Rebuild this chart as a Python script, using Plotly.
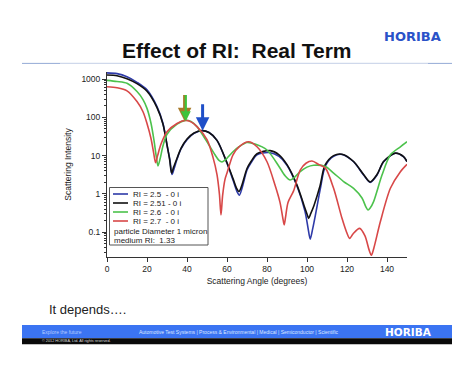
import plotly.graph_objects as go

OFF = 8  # page body margin
W, H = 474 - OFF, 366 - OFF
ML, MR, MT, MB = 107 - OFF, 67, 72 - OFF, 109
PW, PH = W - ML - MR, H - MT - MB

def px(x):
    return (x - OFF - ML) / PW

def py(y):
    return (H + OFF - MB - y) / PH

series_names = ["RI = 2.5\u00a0 - 0 i", "RI = 2.51 - 0 i", "RI = 2.6\u00a0 - 0 i", "RI = 2.7\u00a0 - 0 i"]
series_colors = ["#2e3aa8", "#111111", "#4cc24c", "#d84848"]

# RI = 2.5
blue_x = [0, 5, 10, 15, 20, 25, 28, 30, 31.5, 32.5, 33.5, 35, 37, 40, 43.5, 47.5, 51, 55, 60, 63, 65, 66.2, 67.5,
          70, 72, 75, 81, 86, 90, 95, 99, 100.5, 101.6, 102.8, 104.2, 106.7, 109.2, 113.3, 117.5, 123.3, 128.3,
          131.6, 135, 138.3, 144.2, 148.3, 150]
blue_y = [1450, 1380, 1150, 820, 520, 190, 69, 19, 7.5, 3.2, 4.5, 8, 15, 26, 38, 45, 40, 25, 6.3, 2.3, 1.15, 0.93, 1.4,
          4.2, 6.5, 10.5, 12, 9.5, 5.6, 1.6, 0.35, 0.13, 0.066, 0.12, 0.28, 1.4, 5.4, 9.6, 10.7, 6.9, 3.1,
          2.0, 3.1, 6.9, 11.5, 9.3, 7.0]

# RI = 2.51
black_x = [0, 5, 10, 15, 20, 25, 28, 30, 31.3, 32.3, 33.3, 35, 37, 40, 43.5, 47.5, 51, 55, 60, 63, 64.8, 66, 67.3,
           70, 72, 75, 81.6, 86, 90, 95, 98.5, 100, 100.8, 101.8, 103.5, 106.5, 109, 113.3, 117.5, 123.3, 128.3,
           131.6, 135, 138.3, 144.2, 148.3, 150]
black_y = [1270, 1220, 1020, 760, 480, 180, 66, 19, 8, 3.5, 5, 8.5, 15.5, 27, 39, 45, 40, 25, 6.5, 2.5, 1.4, 1.15, 1.6,
           4.6, 7, 11.2, 13.5, 10.5, 5.8, 1.7, 0.5, 0.3, 0.23, 0.3, 0.5, 1.6, 5.6, 10, 10.9, 7.0, 3.2,
           2.05, 3.2, 7.0, 11.6, 9.4, 7.0]

# RI = 2.6
green_x = [0, 5, 10, 15, 18, 20, 22, 23.5, 24.7, 25.5, 26.5, 28, 30, 35, 39, 42, 45, 50, 54, 56, 57.5, 59, 60, 63,
           66, 70, 74, 80, 86, 89, 91.6, 94, 96.6, 100, 103.3, 109.2, 113.3, 118.3, 123.3, 127.5, 129.5, 130.5,
           131.5, 133.3, 137.5, 141.7, 146.7, 150]
green_y = [920, 860, 770, 470, 290, 171, 70, 25, 9, 5.4, 8, 18, 36, 66, 83, 78, 57, 23, 10.5, 7.5, 6.8, 7.6, 8.5, 12.6,
           17, 22, 20, 14, 5.2, 3, 2.3, 2.8, 3.8, 5.0, 5.6, 5.2, 3.5, 2.1, 1.4, 0.78, 0.45, 0.38,
           0.42, 0.63, 3.1, 10.5, 17, 23]

# RI = 2.7
red_x = [0, 5, 10, 15, 18, 20, 22, 23.3, 24.3, 25.3, 27, 30, 35, 39, 42, 45, 50, 53, 55, 56.2, 57, 57.8, 59, 60, 63,
         66, 70.8, 75, 80, 84, 86.5, 88, 88.6, 89.3, 90.5, 93.3, 96.6, 99.5, 102.5, 106, 109.2, 113.3, 117.5,
         119.8, 121.3, 123, 126.3, 129, 131, 132.2, 133.5, 136.7, 141.7, 146.7, 150]
red_y = [630, 590, 490, 257, 140, 69, 28, 12, 6.5, 10, 20, 42, 69, 83, 76, 57, 26, 9, 3.2, 1.0, 0.28, 0.9, 2.4, 3.5, 10.5,
         17, 23, 17, 6.9, 1.7, 0.6, 0.22, 0.155, 0.25, 0.6, 1.2, 4.2, 6.3, 7.2, 5.8, 4.7, 1.4, 0.23,
         0.1, 0.069, 0.09, 0.126, 0.08, 0.035, 0.025, 0.04, 0.19, 1.4, 3.8, 5.9]

series_x = [blue_x, black_x, green_x, red_x]
series_y = [blue_y, black_y, green_y, red_y]

x_ticks = [0, 20, 40, 60, 80, 100, 120, 140]
y_ticks = [0.1, 1, 10, 100, 1000]
y_tick_text = ["0.1", "1", "10", "100", "1000"]
y_minor = [m * 10 ** e for e in range(-2, 4) for m in range(2, 10)]

fig = go.Figure()
for xs, ys, name, col in zip(series_x, series_y, series_names, series_colors):
    fig.add_trace(go.Scatter(x=xs, y=ys, mode="lines", name=name,
                             line=dict(color=col, width=1.6, shape="spline", smoothing=0.8),
                             showlegend=False, hoverinfo="skip"))

font = "Liberation Sans, Arial, sans-serif"

fig.update_layout(
    width=W, height=H,
    margin=dict(l=ML, r=MR, t=MT, b=MB, pad=0, autoexpand=False),
    paper_bgcolor="white", plot_bgcolor="white",
    font=dict(family=font, size=8, color="#222"),
    xaxis=dict(range=[0, 150], tickvals=x_ticks, ticks="outside", ticklen=4, tickcolor="#333",
               showline=True, linecolor="#333", linewidth=1, showgrid=False, zeroline=False,
               automargin=False, tickfont=dict(size=8.5, color="#222"),
               title=dict(text="Scattering Angle (degrees)", font=dict(size=8.5, color="#222"), standoff=4)),
    yaxis=dict(type="log", range=[-1.648, 3.183], tickvals=y_ticks, ticktext=y_tick_text,
               ticks="outside", ticklen=4, tickcolor="#333",
               minor=dict(tickvals=y_minor, ticks="outside", ticklen=2, tickcolor="#333", showgrid=False),
               showline=True, linecolor="#333", linewidth=1, showgrid=False, zeroline=False,
               automargin=False, tickfont=dict(size=8.5, color="#222"),
               title=dict(text="Scattering Intensity", font=dict(size=8.5, color="#222"), standoff=8)),
)

shapes = []
anns = []

# legend box
shapes.append(dict(type="rect", xref="paper", yref="paper", x0=px(109.5), x1=px(208), y0=py(245), y1=py(187.5),
                   line=dict(color="#555", width=1), fillcolor="white", layer="above"))
leg_y = [194, 203, 212, 221]
for ly, name, col in zip(leg_y, series_names, series_colors):
    shapes.append(dict(type="line", xref="paper", yref="paper", x0=px(113), x1=px(128), y0=py(ly), y1=py(ly),
                       line=dict(color=col, width=1.6), layer="above"))
    anns.append(dict(xref="paper", yref="paper", x=px(131), y=py(ly), text=name, showarrow=False,
                     xanchor="left", yanchor="middle", font=dict(size=8, color="#222", family=font)))
anns.append(dict(xref="paper", yref="paper", x=px(111.5), y=py(231), text="particle Diameter 1 micron",
                 showarrow=False, xanchor="left", yanchor="middle", font=dict(size=8, color="#222", family=font)))
anns.append(dict(xref="paper", yref="paper", x=px(111.5), y=py(240), text="medium RI:\u00a0 1.33",
                 showarrow=False, xanchor="left", yanchor="middle", font=dict(size=8, color="#222", family=font)))

# arrows
anns.append(dict(x=38.8, y=1.9, ax=38.8, ay=2.62, xref="x", yref="y", axref="x", ayref="y", text="",
                 showarrow=True, arrowhead=2, arrowsize=0.9, arrowwidth=3, arrowcolor="#a87a2a"))
anns.append(dict(x=39.4, y=1.9, ax=39.4, ay=2.62, xref="x", yref="y", axref="x", ayref="y", text="",
                 showarrow=True, arrowhead=2, arrowsize=0.9, arrowwidth=2.2, arrowcolor="#3cc43c"))
anns.append(dict(x=47.8, y=1.65, ax=47.8, ay=2.38, xref="x", yref="y", axref="x", ayref="y", text="",
                 showarrow=True, arrowhead=2, arrowsize=0.9, arrowwidth=3, arrowcolor="#1f4fc8"))

# slide header
anns.append(dict(xref="paper", yref="paper", x=px(236.5), y=py(50), text="<b>Effect of RI:\u00a0 Real Term</b>",
                 showarrow=False, xanchor="center", yanchor="middle",
                 font=dict(size=21, color="#111", family=font)))
anns.append(dict(xref="paper", yref="paper", x=px(412), y=py(36), text="<b>HORIBA</b>",
                 showarrow=False, xanchor="center", yanchor="middle",
                 font=dict(size=13, color="#2a52c8", family="DejaVu Sans, sans-serif")))
shapes.append(dict(type="line", xref="paper", yref="paper", x0=px(22), x1=px(452), y0=py(63.3), y1=py(63.3),
                   line=dict(color="#c3cfe6", width=1)))
shapes.append(dict(type="line", xref="paper", yref="paper", x0=px(22), x1=px(60), y0=py(63.5), y1=py(63.5),
                   line=dict(color="#9fb3da", width=1)))
shapes.append(dict(type="line", xref="paper", yref="paper", x0=px(428), x1=px(452), y0=py(63.5), y1=py(63.5),
                   line=dict(color="#9fb3da", width=1)))

# bottom text
anns.append(dict(xref="paper", yref="paper", x=px(47), y=py(309), text="It depends\u2026.",
                 showarrow=False, xanchor="left", yanchor="middle",
                 font=dict(size=13, color="#222", family=font)))

# footer
shapes.append(dict(type="rect", xref="paper", yref="paper", x0=px(22), x1=px(452), y0=py(338.3), y1=py(325),
                   line=dict(width=0), fillcolor="#3b74f2"))
shapes.append(dict(type="rect", xref="paper", yref="paper", x0=px(22), x1=px(452), y0=py(344.3), y1=py(338.3),
                   line=dict(width=0), fillcolor="#0a0a0a"))
anns.append(dict(xref="paper", yref="paper", x=px(40), y=py(331.5), text="Explore the future",
                 showarrow=False, xanchor="left", yanchor="middle",
                 font=dict(size=5, color="#b5ccff", family=font)))
anns.append(dict(xref="paper", yref="paper", x=px(136.5), y=py(331.5),
                 text="Automotive Test Systems | Process &amp; Environmental | Medical | Semiconductor | Scientific",
                 showarrow=False, xanchor="left", yanchor="middle",
                 font=dict(size=5, color="#dde7ff", family=font)))
anns.append(dict(xref="paper", yref="paper", x=px(408), y=py(331.5), text="<b>HORIBA</b>",
                 showarrow=False, xanchor="center", yanchor="middle",
                 font=dict(size=10.5, color="white", family="DejaVu Sans, sans-serif")))
anns.append(dict(xref="paper", yref="paper", x=px(40), y=py(341.4), text="\u00a9 2012 HORIBA, Ltd. All rights reserved.",
                 showarrow=False, xanchor="left", yanchor="middle",
                 font=dict(size=3.8, color="#dddddd", family=font)))

fig.update_layout(shapes=shapes, annotations=anns)
fig.write_html("out.html")
